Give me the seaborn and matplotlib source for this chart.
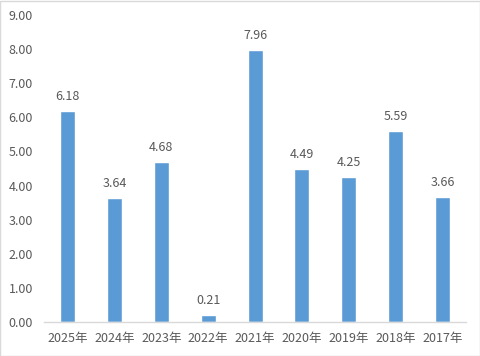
import matplotlib
matplotlib.use("Agg")
import matplotlib.pyplot as plt
import seaborn as sns
import pandas as pd

# Data
years = ["2025年", "2024年", "2023年", "2022年", "2021年",
         "2020年", "2019年", "2018年", "2017年"]
values = [6.18, 3.64, 4.68, 0.21, 7.96, 4.49, 4.25, 5.59, 3.66]

df = pd.DataFrame({"year": years, "value": values})

sns.set_style("white")
plt.rcParams["font.family"] = ["Noto Sans CJK SC", "DejaVu Sans"]

text_color = "#595959"

fig = plt.figure(figsize=(4.81, 3.56), dpi=100)
ax = fig.add_axes([0.0915, 0.0955, 0.8775, 0.8625])

sns.barplot(data=df, x="year", y="value", color="#5B9BD5",
            width=0.32, saturation=1, ax=ax)

for i, v in enumerate(values):
    ax.text(i, v + 0.24, f"{v:.2f}", ha="center", va="bottom",
            fontsize=9, color=text_color)

ax.set_ylim(0, 9)
ax.set_xlim(-0.5, len(years) - 0.5)
ax.set_yticks([i for i in range(10)])
ax.set_yticklabels([f"{i:.2f}" for i in range(10)])
ax.set_xlabel("")
ax.set_ylabel("")
ax.tick_params(axis="both", length=0, labelsize=9, labelcolor=text_color)
ax.tick_params(axis="x", pad=7)
ax.tick_params(axis="y", pad=8)

for side in ["top", "right", "left"]:
    ax.spines[side].set_visible(False)
ax.spines["bottom"].set_color("#D9D9D9")
ax.spines["bottom"].set_linewidth(1)

# light border around the whole chart
fig.patches.append(plt.Rectangle((0.001, 0.001), 0.997, 0.997,
                                 transform=fig.transFigure, fill=False,
                                 edgecolor="#D9D9D9", linewidth=1))

fig.savefig("out.png", dpi=100)
